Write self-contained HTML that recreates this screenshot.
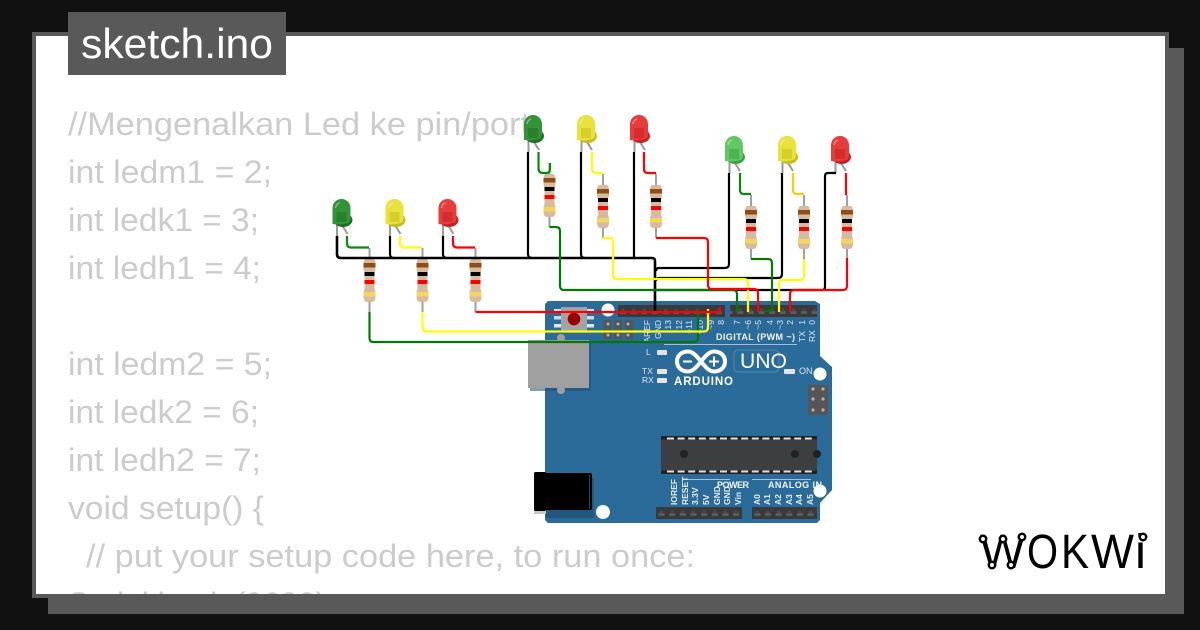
<!DOCTYPE html>
<html><head><meta charset="utf-8"><style>
html,body{margin:0;padding:0;background:#111;width:1200px;height:630px;overflow:hidden}
svg{display:block}
.code{font:32px "Liberation Sans",sans-serif;fill:#ccc}
.lb{font:bold 8.5px "Liberation Sans",sans-serif;fill:#e8eef3}
.lt{font:8.5px "Liberation Sans",sans-serif;fill:#dfe7ee}
.w{fill:none;stroke-width:2.2;stroke-linecap:butt}
.logo{font:48px "Liberation Sans",sans-serif;fill:#000}
</style></head><body>
<svg width="1200" height="630" viewBox="0 0 1200 630" xmlns="http://www.w3.org/2000/svg">
<defs>
<g id="led">
<path d="M-4.500 26V37M1 27L6 35" stroke="#9a9a9a" stroke-width="2" fill="none"/>
<ellipse cx="1.500" cy="21" rx="9.500" ry="7" style="fill:var(--d)"/>
<path d="M-9 25V9a9 9 0 0 1 18 0V20l-1 3c-3 2-11 3-17 2z" style="fill:var(--a)"/>
<path d="M-5 13H5V23H-5z" style="fill:var(--d)" opacity=".55"/>
<path d="M-6 9a5 6 0 0 1 4-5" stroke="#fff" stroke-opacity=".4" stroke-width="1.500" fill="none"/>
</g>
<g id="res">
<path d="M0 -11V0M0 43V53" stroke="#a0a0a0" stroke-width="2"/>
<path d="M-4 0H4Q6 1 6 6V10L5 14V30L6 33V38Q6 43 2 43H-2Q-6 43 -6 38V33L-5 30V14L-6 10V6Q-6 1 -4 0z" fill="#d8bb9f"/>
<rect x="-6" y="4" width="12" height="4.500" fill="#8e4e16"/>
<rect x="-5" y="13" width="10" height="4" fill="#000"/>
<rect x="-5" y="21" width="10" height="4" fill="#f00"/>
<rect x="-6" y="33" width="12" height="4.500" fill="#f4d65e"/>
</g>
<pattern id="hdr" x="617.500" y="305" width="10.650" height="12" patternUnits="userSpaceOnUse">
<rect width="10.650" height="12" fill="#3a3a3a"/><rect x="2.500" y="6" width="6" height="3" fill="#5c5c5c"/><rect x="4" y="3.500" width="3" height="3" fill="#4a4a4a"/>
</pattern>
<pattern id="hdr2" x="656" y="507" width="10.650" height="12" patternUnits="userSpaceOnUse">
<rect width="10.650" height="12" fill="#3a3a3a"/><rect x="2.500" y="6" width="6" height="3" fill="#5c5c5c"/><rect x="4" y="3.500" width="3" height="3" fill="#4a4a4a"/>
</pattern>
</defs>

<rect width="1200" height="630" fill="#111"/>
<rect x="48" y="48" width="1136" height="566" fill="#595959"/>
<rect x="32" y="32" width="1137" height="566" fill="#595959"/>
<rect x="36" y="36" width="1129" height="558" fill="#fff"/>

<text class="code" x="68" y="135" textLength="462" lengthAdjust="spacingAndGlyphs">//Mengenalkan Led ke pin/port</text>
<text class="code" x="68" y="183" textLength="204" lengthAdjust="spacingAndGlyphs">int ledm1 = 2;</text>
<text class="code" x="68" y="231" textLength="191" lengthAdjust="spacingAndGlyphs">int ledk1 = 3;</text>
<text class="code" x="68" y="279" textLength="193" lengthAdjust="spacingAndGlyphs">int ledh1 = 4;</text>
<text class="code" x="68" y="375" textLength="204" lengthAdjust="spacingAndGlyphs">int ledm2 = 5;</text>
<text class="code" x="68" y="423" textLength="191" lengthAdjust="spacingAndGlyphs">int ledk2 = 6;</text>
<text class="code" x="68" y="471" textLength="193" lengthAdjust="spacingAndGlyphs">int ledh2 = 7;</text>
<text class="code" x="68" y="519" textLength="196" lengthAdjust="spacingAndGlyphs">void setup() {</text>
<text class="code" x="86" y="567" textLength="609" lengthAdjust="spacingAndGlyphs">// put your setup code here, to run once:</text>
<text class="code" x="68" y="615" textLength="267" lengthAdjust="spacingAndGlyphs">Serial.begin(9600);</text>

<rect x="32" y="594" width="1137" height="4" fill="#595959"/>
<rect x="32" y="598" width="16" height="32" fill="#111"/>
<rect x="48" y="598" width="1136" height="16" fill="#595959"/>
<rect x="0" y="614" width="1200" height="16" fill="#111"/>

<rect x="68" y="12" width="218" height="63" fill="#595959"/>
<text x="81" y="58" font-family="Liberation Sans" font-size="42" fill="#fff" textLength="192" lengthAdjust="spacingAndGlyphs">sketch.ino</text>

<!-- logo -->
<text class="logo" x="980" y="568" textLength="45" lengthAdjust="spacingAndGlyphs">W</text>
<text class="logo" x="1027" y="568" textLength="31" lengthAdjust="spacingAndGlyphs">O</text>
<text class="logo" x="1061" y="568" textLength="28" lengthAdjust="spacingAndGlyphs">K</text>
<text class="logo" x="1091" y="568" textLength="43" lengthAdjust="spacingAndGlyphs">W</text>
<text class="logo" x="1135" y="568" textLength="11" lengthAdjust="spacingAndGlyphs">i</text>
<g fill="#fff" stroke="#000" stroke-width="2.500">
<circle cx="983" cy="539" r="3.200"/><circle cx="1003" cy="539" r="3.200"/><circle cx="1022" cy="537" r="3.200"/><circle cx="992" cy="565" r="3.200"/><circle cx="1011" cy="565" r="3.200"/><circle cx="1143" cy="537" r="3.200"/>
</g>

<!-- board -->
<path d="M548 301H815L820 304V356L832 367V490L820 503V520L817 523H548L545 520V304z" fill="#2b6b99"/>
<rect x="618" y="305" width="107" height="12" fill="url(#hdr)"/>
<rect x="730" y="305" width="87" height="12" fill="url(#hdr)"/>
<rect x="656" y="507" width="86" height="12" fill="url(#hdr2)"/>
<rect x="752" y="507" width="65" height="12" fill="url(#hdr2)"/>
<circle cx="608" cy="310" r="6.500" fill="#fff"/><circle cx="820" cy="374" r="6.500" fill="#fff"/>
<circle cx="603" cy="512" r="7" fill="#fff"/><circle cx="820" cy="491" r="6.500" fill="#fff"/>

<!-- reset -->
<rect x="554" y="309" width="40" height="3.500" fill="#dfe7ee"/><rect x="554" y="316" width="40" height="3.500" fill="#dfe7ee" opacity=".9"/><rect x="554" y="324" width="40" height="3.500" fill="#dfe7ee"/>
<rect x="561" y="307" width="26" height="24" fill="#a3a3a3"/>
<circle cx="574" cy="319" r="6.300" fill="#900"/>
<!-- icsp -->
<g fill="#555"><rect x="603.500" y="320" width="8" height="19"/><rect x="614" y="320" width="8" height="19"/><rect x="625" y="320" width="8" height="19"/></g>
<g fill="#b0b0b0"><circle cx="608" cy="324" r="1.500"/><circle cx="618" cy="324" r="1.500"/><circle cx="628" cy="324" r="1.500"/><circle cx="608" cy="335" r="1.500"/><circle cx="618" cy="335" r="1.500"/><circle cx="628" cy="335" r="1.500"/></g>
<rect x="808" y="385" width="20" height="30" fill="#555"/>
<g fill="#b0b0b0"><circle cx="813" cy="389" r="1.600"/><circle cx="823" cy="389" r="1.600"/><circle cx="813" cy="399" r="1.600"/><circle cx="823" cy="399" r="1.600"/><circle cx="813" cy="410" r="1.600"/><circle cx="823" cy="410" r="1.600"/></g>
<!-- usb -->
<rect x="530" y="342" width="61" height="49" fill="#1f4f72" opacity=".55"/>
<circle cx="561" cy="338" r="4" fill="#a0a0a0"/><circle cx="561" cy="390" r="4" fill="#a0a0a0"/>
<rect x="528" y="340" width="61" height="48" fill="#a0a0a0"/>
<!-- jack -->
<rect x="546" y="478" width="48" height="40" fill="#1f4f72" opacity=".7"/>
<rect x="534" y="474" width="12" height="40" fill="#c8c8c8"/>
<rect x="534" y="472" width="12" height="39" rx="1.500" fill="#000"/>
<rect x="545" y="473" width="47" height="37" rx="2" fill="#000"/>
<rect x="589" y="475" width=".8" height="34" fill="#555"/>
<!-- chip -->
<rect x="661" y="436" width="156" height="38" rx="1" fill="#3c3e40"/>
<rect x="661" y="436" width="156" height="3.500" fill="#222"/><rect x="661" y="470.500" width="156" height="3.500" fill="#222"/>
<path d="M667 438.500H815M667 471.500H815" stroke="#ddd" stroke-width="2" stroke-dasharray="7 3.600"/>
<circle cx="684" cy="454" r="4" fill="#222"/><circle cx="795" cy="454" r="4" fill="#222"/><circle cx="817" cy="454" r="4" fill="#222"/>

<!-- board labels -->
<text class="lt" text-anchor="end" transform="translate(650 320) rotate(-90)">AREF</text>
<text class="lt" text-anchor="end" transform="translate(661 320) rotate(-90)">GND</text>
<text class="lt" text-anchor="end" transform="translate(671 320) rotate(-90)">13</text>
<text class="lt" text-anchor="end" transform="translate(682 320) rotate(-90)">12</text>
<text class="lt" text-anchor="end" transform="translate(692 320) rotate(-90)">~11</text>
<text class="lt" text-anchor="end" transform="translate(703 320) rotate(-90)">~10</text>
<text class="lt" text-anchor="end" transform="translate(714 320) rotate(-90)">~9</text>
<text class="lt" text-anchor="end" transform="translate(724 320) rotate(-90)">8</text>
<text class="lt" text-anchor="end" transform="translate(740 320) rotate(-90)">7</text>
<text class="lt" text-anchor="end" transform="translate(751 320) rotate(-90)">~6</text>
<text class="lt" text-anchor="end" transform="translate(761 320) rotate(-90)">~5</text>
<text class="lt" text-anchor="end" transform="translate(773 320) rotate(-90)">4</text>
<text class="lt" text-anchor="end" transform="translate(783 320) rotate(-90)">~3</text>
<text class="lt" text-anchor="end" transform="translate(793 320) rotate(-90)">2</text>
<text class="lt" text-anchor="end" transform="translate(805 320) rotate(-90)">1</text>
<text class="lt" text-anchor="end" transform="translate(815 320) rotate(-90)">0</text>
<text class="lt" transform="translate(805 342) rotate(-90)">TX</text>
<text class="lt" transform="translate(815 342) rotate(-90)">RX</text>
<text x="716" y="340" font-family="Liberation Sans" font-weight="bold" font-size="9" fill="#f0f4f7" textLength="79">DIGITAL (PWM ~)</text>
<path d="M664 344.500H797" stroke="#cfdde8" stroke-width=".8"/>
<text class="lt" x="646" y="355">L</text><text class="lt" x="642" y="374">TX</text><text class="lt" x="642" y="383">RX</text>
<g fill="#e4e4e4"><rect x="657" y="350" width="10" height="5" rx="1"/><rect x="657" y="369" width="10" height="5" rx="1"/><rect x="657" y="378" width="10" height="5" rx="1"/><rect x="784" y="369" width="11" height="5" rx="1"/></g>
<text class="lt" x="799" y="374" style="font-size:9px">ON</text>
<g fill="none" stroke="#fff" stroke-width="4"><path d="M688 351.500C698 351.500 704 371.500 714 371.500C721 371.500 725 367 725 361.500C725 356 721 351.500 714 351.500C704 351.500 698 371.500 688 371.500C681 371.500 677 367 677 361.500C677 356 681 351.500 688 351.500z"/></g>
<path d="M683 361.500H692M709 361.500H719M714 356.500V366.500" stroke="#fff" stroke-width="2"/>
<text x="674" y="385" font-family="Liberation Sans" font-weight="bold" font-size="11.500" fill="#fff" textLength="59">ARDUINO</text>
<rect x="734" y="350" width="45" height="22" rx="4" fill="none" stroke="#5d8fb5" stroke-width=".8"/>
<text x="740" y="368" font-family="Liberation Sans" font-size="21" fill="#fff" textLength="47" lengthAdjust="spacingAndGlyphs">UNO</text>

<text class="lb" transform="translate(677 505) rotate(-90)">IOREF</text>
<text class="lb" transform="translate(688 505) rotate(-90)">RESET</text>
<text class="lb" transform="translate(698 505) rotate(-90)">3.3V</text>
<text class="lb" transform="translate(709 505) rotate(-90)">5V</text>
<text class="lb" transform="translate(720 505) rotate(-90)">GND</text>
<text class="lb" transform="translate(730 505) rotate(-90)">GND</text>
<text class="lb" transform="translate(741 505) rotate(-90)">Vin</text>
<text class="lb" transform="translate(760 505) rotate(-90)">A0</text>
<text class="lb" transform="translate(770 505) rotate(-90)">A1</text>
<text class="lb" transform="translate(781 505) rotate(-90)">A2</text>
<text class="lb" transform="translate(792 505) rotate(-90)">A3</text>
<text class="lb" transform="translate(802 505) rotate(-90)">A4</text>
<text class="lb" transform="translate(813 505) rotate(-90)">A5</text>
<text x="717" y="488" font-family="Liberation Sans" font-weight="bold" font-size="9" fill="#f0f4f7" textLength="32">POWER</text>
<text x="768" y="488" font-family="Liberation Sans" font-weight="bold" font-size="9" fill="#f0f4f7" textLength="54">ANALOG IN</text>
<path d="M686 479.500H730M752 479.500H811" stroke="#cfdde8" stroke-width=".8"/>

<!-- LEDs -->
<use href="#led" x="341.500" y="199" style="--a:#339437;--d:#1f6f23"/>
<use href="#led" x="394.500" y="199" style="--a:#e8e23a;--d:#c4bd1f"/>
<use href="#led" x="447.500" y="199" style="--a:#e83c3c;--d:#c42020"/>
<use href="#led" x="533" y="115" style="--a:#339437;--d:#1f6f23"/>
<use href="#led" x="586" y="115" style="--a:#e8e23a;--d:#c4bd1f"/>
<use href="#led" x="639" y="115" style="--a:#e83c3c;--d:#c42020"/>
<use href="#led" x="734" y="136" style="--a:#62c962;--d:#3fa03f"/>
<use href="#led" x="787" y="136" style="--a:#e8e23a;--d:#c4bd1f"/>
<use href="#led" x="840" y="136" style="--a:#e83c3c;--d:#c42020"/>

<!-- resistors -->
<use href="#res" x="369.500" y="259"/>
<use href="#res" x="422.500" y="259"/>
<use href="#res" x="475.500" y="259"/>
<use href="#res" x="549.500" y="174"/>
<use href="#res" x="603" y="185"/>
<use href="#res" x="656" y="185"/>
<use href="#res" x="751" y="206"/>
<use href="#res" x="804" y="206"/>
<use href="#res" x="847" y="206"/>

<!-- black wires -->
<g class="w" stroke="#000">
<path d="M337 236V254Q337 258 341 258H652Q655 258 655 261V311" stroke-width="2.600"/>
<path d="M390 236V254Q390 258 394 258"/>
<path d="M443 236V254Q443 258 447 258"/>
<path d="M528 152V254Q528 258 532 258"/>
<path d="M581 152V254Q581 258 585 258"/>
<path d="M634 152V257"/>
<path d="M729 173V264Q729 268 725 268H659Q656 268 656 271"/>
<path d="M782 173V274Q782 278 778 278H659Q656 278 656 281"/>
<path d="M836 173H828Q825 173 825 176V287Q825 290 822 290H656"/>
</g>
<!-- green wires -->
<g class="w" stroke="#0a8a0a">
<path d="M347 236V243Q347 247.500 351 247.500H369"/>
<path d="M369.500 312V338Q369.500 342 373 342H694Q698 342 698 338V310" stroke="#007a00"/>
<path d="M538.500 152V168Q538.500 173 543 173H546Q550 173 550 169V163"/>
<path d="M549.500 227H556Q560 227 560 231V286Q560 290 564 290H733Q737 290 737 294V312" stroke="#007a00"/>
<path d="M740 173V190Q740 194 744 194H751"/>
<path d="M751 259H768Q772 259 772 263V307Q772 311 768 311H764" stroke="#007a00"/>
</g>
<!-- yellow wires -->
<g class="w" stroke="#ff0">
<path d="M400 236V243Q400 247.500 404 247.500H422"/>
<path d="M422.500 312V327Q422.500 331.500 427 331.500H704Q708 331.500 708 327V309"/>
<path d="M592 152V169Q592 173 596 173H603"/>
<path d="M603 238H609Q613 238 613 242V275Q613 279 617 279H744Q748 279 748 283V312"/>
<path d="M793 173V190Q793 194 797 194H804" stroke="#f7d000"/>
<path d="M804 259V276Q804 280 800 280H783Q779 280 779 284V312"/>
</g>
<!-- red wires -->
<g class="w" stroke="#f00">
<path d="M453 236V243Q453 247.500 457 247.500H475"/>
<path d="M475.500 312H720V307"/>
<path d="M644 152V169Q644 173 648 173H656"/>
<path d="M656 238H704Q708 238 708 242V285Q708 289 712 289H754Q758 289 758 293V312"/>
<path d="M846 173V195"/>
<path d="M847 258V286Q847 290 843 290H794Q790 290 790 294V312"/>
</g>
</svg>
</body></html>
